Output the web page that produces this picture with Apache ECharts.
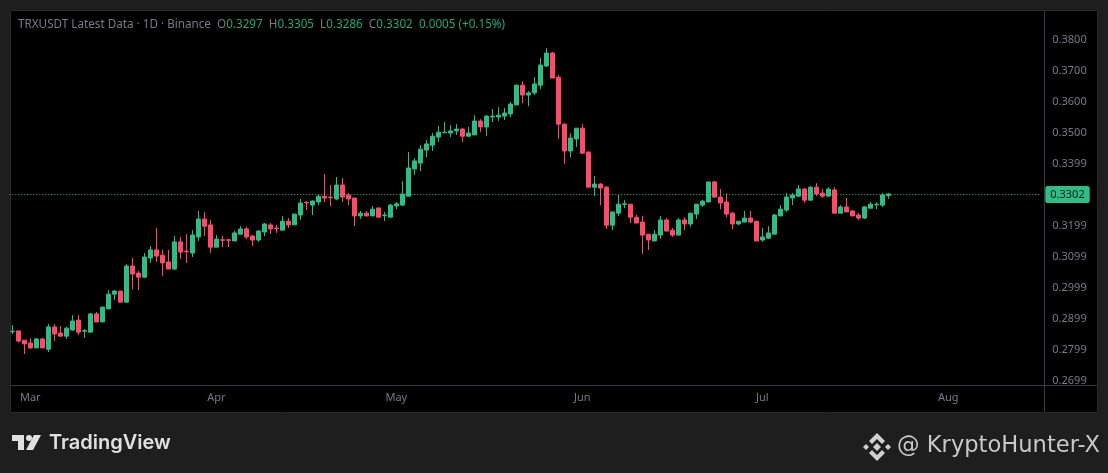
<!DOCTYPE html>
<html>
<head>
<meta charset="utf-8">
<style>html,body{margin:0;padding:0;background:#1e1e1e}#c{width:1108px;height:473px}</style>
<script src="https://cdn.jsdelivr.net/npm/echarts@6/dist/echarts.min.js"></script>
</head>
<body>
<div id="c"></div>
<script>
const startDate = '2025-02-26';
const totalDays = 172;
const monthStarts = ['2025-03-01','2025-04-01','2025-05-01','2025-06-01','2025-07-01','2025-08-01'];
const monthLabels = ['Mar','Apr','May','Jun','Jul','Aug'];
const priceTicks = [0.38,0.37,0.36,0.35,0.3399,0.3199,0.3099,0.2999,0.2899,0.2799,0.2699];
const lastPrice = 0.3302;

const opens = [
.2856,.2859,.2829,.2820,.2804,.2833,.2800,.2872,.2852,.2842,
.2862,.2894,.2858,.2855,.2914,.2888,.2930,.2978,.2988,.2952,
.3069,.3046,.3033,.3095,.3121,.3104,.3082,.3059,.3147,.3117,
.3111,.3163,.3221,.3202,.3130,.3154,.3154,.3150,.3172,.3189,
.3166,.3153,.3179,.3202,.3192,.3185,.3214,.3202,.3234,.3275,
.3266,.3276,.3295,.3292,.3286,.3331,.3299,.3289,.3231,.3240,
.3231,.3257,.3232,.3227,.3263,.3266,.3295,.3383,.3402,.3444,
.3460,.3486,.3500,.3499,.3506,.3512,.3489,.3493,.3538,.3519,
.3551,.3551,.3554,.3561,.3590,.3654,.3622,.3629,.3654,.3716,
.3758,.3680,.3528,.3441,.3480,.3515,.3438,.3324,.3334,.3324,
.3201,.3240,.3268,.3269,.3227,.3211,.3172,.3150,.3169,.3218,
.3185,.3169,.3218,.3205,.3237,.3266,.3276,.3341,.3292,.3276,
.3240,.3205,.3211,.3224,.3214,.3153,.3159,.3172,.3231,.3250,
.3289,.3295,.3318,.3282,.3324,.3305,.3295,.3315,.3240,.3260,
.3247,.3234,.3224,.3256,.3267,.3266,.3297];
const closes = [
.2858,.2826,.2817,.2804,.2833,.2804,.2872,.2849,.2842,.2868,
.2891,.2855,.2860,.2914,.2888,.2936,.2978,.2988,.2952,.3069,
.3043,.3033,.3098,.3121,.3101,.3079,.3059,.3147,.3114,.3115,
.3169,.3221,.3198,.3130,.3156,.3152,.3152,.3176,.3189,.3163,
.3153,.3182,.3205,.3189,.3190,.3214,.3202,.3237,.3273,.3273,
.3279,.3295,.3289,.3290,.3331,.3292,.3286,.3231,.3240,.3231,
.3253,.3227,.3234,.3266,.3270,.3302,.3386,.3409,.3447,.3464,
.3489,.3502,.3502,.3506,.3512,.3489,.3499,.3538,.3519,.3554,
.3554,.3557,.3564,.3593,.3654,.3622,.3629,.3658,.3719,.3758,
.3677,.3528,.3441,.3483,.3515,.3434,.3324,.3334,.3321,.3201,
.3244,.3269,.3270,.3227,.3208,.3169,.3153,.3172,.3218,.3182,
.3169,.3218,.3205,.3240,.3269,.3279,.3341,.3292,.3273,.3237,
.3205,.3214,.3224,.3211,.3150,.3163,.3176,.3234,.3253,.3292,
.3299,.3318,.3282,.3324,.3302,.3295,.3318,.3240,.3260,.3244,
.3231,.3224,.3260,.3269,.3269,.3299,.3302];
const lows = [
.2849,.2821,.2784,.2800,.2804,.2804,.2791,.2826,.2842,.2833,
.2859,.2846,.2836,.2855,.2888,.2888,.2930,.2959,.2952,.2952,
.2994,.2991,.3030,.3079,.3082,.3037,.3059,.3056,.3092,.3079,
.3098,.3150,.3166,.3111,.3130,.3130,.3130,.3150,.3172,.3156,
.3134,.3147,.3166,.3172,.3176,.3185,.3192,.3202,.3218,.3250,
.3234,.3266,.3276,.3263,.3282,.3276,.3266,.3198,.3221,.3231,
.3231,.3224,.3214,.3227,.3253,.3263,.3295,.3363,.3376,.3421,
.3441,.3470,.3499,.3486,.3493,.3470,.3486,.3493,.3502,.3489,
.3535,.3538,.3541,.3551,.3590,.3596,.3586,.3622,.3641,.3713,
.3677,.3480,.3399,.3421,.3454,.3434,.3324,.3295,.3266,.3189,
.3185,.3231,.3256,.3208,.3208,.3108,.3121,.3150,.3156,.3182,
.3163,.3169,.3185,.3195,.3221,.3260,.3276,.3289,.3253,.3227,
.3189,.3201,.3211,.3208,.3150,.3147,.3156,.3172,.3231,.3244,
.3266,.3292,.3273,.3282,.3295,.3289,.3295,.3240,.3240,.3244,
.3231,.3218,.3221,.3256,.3253,.3260,.3286];
const highs = [
.2878,.2859,.2829,.2836,.2836,.2836,.2881,.2881,.2875,.2872,
.2910,.2910,.2865,.2917,.2920,.2936,.2991,.2991,.2988,.3075,
.3095,.3053,.3111,.3134,.3192,.3121,.3121,.3166,.3163,.3172,
.3185,.3247,.3244,.3218,.3169,.3166,.3156,.3182,.3198,.3195,
.3169,.3185,.3208,.3208,.3202,.3231,.3224,.3237,.3286,.3279,
.3282,.3299,.3367,.3331,.3357,.3354,.3305,.3289,.3247,.3247,
.3263,.3257,.3244,.3270,.3276,.3344,.3438,.3418,.3460,.3477,
.3499,.3522,.3535,.3525,.3528,.3515,.3519,.3557,.3544,.3557,
.3577,.3583,.3580,.3599,.3654,.3667,.3635,.3680,.3742,.3774,
.3761,.3687,.3531,.3499,.3515,.3528,.3438,.3360,.3337,.3328,
.3244,.3299,.3282,.3269,.3234,.3231,.3172,.3185,.3231,.3224,
.3192,.3224,.3227,.3240,.3269,.3282,.3341,.3344,.3318,.3305,
.3244,.3214,.3247,.3247,.3214,.3192,.3198,.3237,.3266,.3305,
.3305,.3331,.3321,.3328,.3337,.3318,.3324,.3324,.3266,.3289,
.3250,.3240,.3263,.3276,.3276,.3305,.3305];

const UP = '#2ebd85', DOWN = '#ff4a68', GRAY = '#787b86', FRAME = '#2b2b2b', RULE = '#363a45';

const categories = [];
const d0 = new Date(startDate + 'T00:00:00Z');
for (let i = 0; i < totalDays; i++) {
  categories.push(new Date(d0.getTime() + i * 864e5).toISOString().slice(0, 10));
}
const candles = opens.map((o, i) => [o, closes[i], lows[i], highs[i]]);

const chart = echarts.init(document.getElementById('c'), null, {renderer: 'canvas'});
const FONT = '"Noto Sans", sans-serif';
chart.setOption({
  animation: false,
  backgroundColor: '#1e1e1e',
  title: {
    left: 13, top: 14,
    text: '{g|TRXUSDT Latest Data · 1D · Binance}  {g|O}{v|0.3297}  {g|H}{v|0.3305}  {g|L}{v|0.3286}  {g|C}{v|0.3302}  {v|0.0005 (+0.15%)}',
    textStyle: {
      fontFamily: FONT, fontSize: 11.7, fontWeight: 'normal',
      rich: {
        g: {color: GRAY, fontFamily: FONT, fontSize: 11.7},
        v: {color: '#1fa97a', fontFamily: FONT, fontSize: 11.7}
      }
    }
  },
  grid: {left: 9.3, top: 11, width: 1032, height: 374},
  xAxis: {
    type: 'category', data: categories, boundaryGap: true,
    axisLine: {show: false}, axisTick: {show: false}, splitLine: {show: false},
    axisLabel: {
      color: GRAY, fontFamily: FONT, fontSize: 11, margin: 7,
      interval: (i, v) => monthStarts.includes(v),
      formatter: v => monthLabels[monthStarts.indexOf(v)] || ''
    }
  },
  yAxis: {
    type: 'value', position: 'right', min: 0.2684, max: 0.3894,
    axisLine: {show: false}, axisTick: {show: false}, splitLine: {show: false},
    axisLabel: {
      color: GRAY, fontFamily: FONT, fontSize: 11, margin: 11,
      customValues: priceTicks,
      formatter: v => v.toFixed(4)
    }
  },
  series: [{
    type: 'candlestick', data: candles, barWidth: 5,
    itemStyle: {color: UP, color0: DOWN, borderColor: UP, borderColor0: DOWN, borderWidth: 1},
    markLine: {
      silent: true, symbol: ['none', 'none'], animation: false,
      lineStyle: {color: UP, type: [1, 2], width: 1},
      label: {
        show: true, position: 'end', distance: 4, formatter: () => lastPrice.toFixed(4),
        color: '#0e1a16', backgroundColor: UP, padding: [3, 5, 3, 5], borderRadius: 2,
        fontFamily: FONT, fontSize: 11
      },
      data: [{yAxis: lastPrice}]
    }
  }],
  graphic: {elements: [
    {type: 'rect', z: -10, silent: true, shape: {x: 10.5, y: 10.5, width: 1087, height: 402},
     style: {fill: '#000', stroke: FRAME, lineWidth: 1}},
    {type: 'line', z: 10, silent: true, shape: {x1: 1044.5, y1: 11, x2: 1044.5, y2: 412}, style: {stroke: RULE, lineWidth: 1}},
    {type: 'line', z: 10, silent: true, shape: {x1: 11, y1: 385.5, x2: 1097, y2: 385.5}, style: {stroke: RULE, lineWidth: 1}},
    // TradingView mark
    {type: 'polygon', silent: true, shape: {points: [[12,435],[24,435],[24,450],[18,450],[18,441],[12,441]]}, style: {fill: '#e0e0e0'}},
    {type: 'circle', silent: true, shape: {cx: 29, cy: 438, r: 3}, style: {fill: '#e0e0e0'}},
    {type: 'polygon', silent: true, shape: {points: [[34,435],[41,435],[33,450],[26,450]]}, style: {fill: '#e0e0e0'}},
    {type: 'text', silent: true, style: {x: 49, y: 443, text: 'TradingView', fill: '#e0e0e0', fontFamily: 'Inter, sans-serif', fontWeight: 600, fontSize: 20, verticalAlign: 'middle'}},
    // exchange mark
    {type: 'polygon', silent: true, shape: {points: [[877,443],[881,447],[877,451],[873,447]]}, style: {fill: '#d0d0d0'}},
    {type: 'polygon', silent: true, shape: {points: [[866,444],[869,447],[866,450],[863,447]]}, style: {fill: '#d0d0d0'}},
    {type: 'polygon', silent: true, shape: {points: [[888,444],[891,447],[888,450],[885,447]]}, style: {fill: '#d0d0d0'}},
    {type: 'polygon', silent: true, shape: {points: [[877,433],[885,441],[882,444],[877,439],[872,444],[869,441]]}, style: {fill: '#d0d0d0'}},
    {type: 'polygon', silent: true, shape: {points: [[877,461],[885,453],[882,450],[877,455],[872,450],[869,453]]}, style: {fill: '#d0d0d0'}},
    {type: 'text', silent: true, style: {x: 897, y: 446, text: '@ KryptoHunter-X', fill: '#c8c8c8', fontFamily: '"DejaVu Sans", sans-serif', fontSize: 22.6, verticalAlign: 'middle'}}
  ]}
});
</script>
</body>
</html>
